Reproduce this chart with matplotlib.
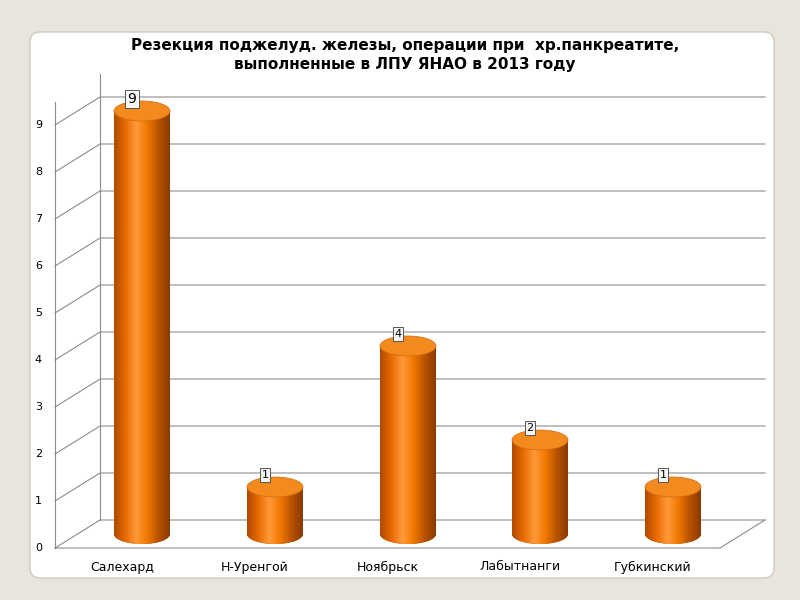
"""Cylinder bar chart: pancreatic resections in YaNAO hospitals, 2013."""

import matplotlib.pyplot as plt
import numpy as np
from matplotlib.patches import FancyBboxPatch, Rectangle, Ellipse, Polygon
from matplotlib.colors import LinearSegmentedColormap

categories = ["Салехард", "Н-Уренгой", "Ноябрьск", "Лабытнанги", "Губкинский"]
values = [9, 1, 4, 2, 1]
y_ticks = list(range(0, 10))
title = "Резекция поджелуд. железы, операции при  хр.панкреатите,\nвыполненные в ЛПУ ЯНАО в 2013 году"

# geometry in pixels
FRONT0, UNIT = 548, 47.0
DX, DY = 45, -28
LEFT, RIGHT = 55, 765
centers = [142, 275, 408, 540, 673]
BAR_W, ELL_H = 56, 20


def yf(v):
    return FRONT0 - UNIT * v


def main():
    fig = plt.figure(figsize=(8, 6), dpi=100)
    fig.patch.set_facecolor("#e9e5dd")
    ax = fig.add_axes([0, 0, 1, 1])
    ax.set_xlim(0, 800)
    ax.set_ylim(600, 0)
    ax.axis("off")

    ax.add_patch(FancyBboxPatch((30, 32), 744, 546, boxstyle="round,pad=0,rounding_size=10",
                                facecolor="white", edgecolor="#cfcac0", lw=1))

    # gridlines and walls
    for v in y_ticks:
        y = yf(v)
        ax.plot([LEFT, LEFT + DX, RIGHT], [y, y + DY, y + DY], color="#8c8c8c", lw=0.8)
        ax.text(42, y, str(v), ha="right", va="center", fontsize=8)
    ax.plot([LEFT + DX, LEFT + DX], [yf(0) + DY, yf(9.5) + DY], color="#8c8c8c", lw=0.8)
    ax.plot([LEFT, LEFT], [yf(0), yf(9.5)], color="#8c8c8c", lw=0.8)
    ax.plot([LEFT, RIGHT - DX, RIGHT], [yf(0), yf(0), yf(0) + DY], color="#8c8c8c", lw=0.8)

    cmap = LinearSegmentedColormap.from_list(
        "cyl", ["#b04a00", "#e86a00", "#ff9a3a", "#f07800", "#b85200", "#8a3a00"])
    grad = np.linspace(0, 1, 200).reshape(1, -1)
    for cx, v, name in zip(centers, values, categories):
        base = yf(0) + DY / 2
        top = yf(v) + DY / 2
        x0 = cx - BAR_W / 2
        body = Rectangle((x0, top), BAR_W, base - top, transform=ax.transData)
        bottom = Ellipse((cx, base), BAR_W, ELL_H, facecolor="#a84800", edgecolor="none")
        ax.add_patch(bottom)
        im = ax.imshow(grad, cmap=cmap, extent=(x0, x0 + BAR_W, base, top), aspect="auto", zorder=2)
        im.set_clip_path(body)
        bot_clip = Ellipse((cx, base), BAR_W, ELL_H, transform=ax.transData)
        im2 = ax.imshow(grad, cmap=cmap, extent=(x0, x0 + BAR_W, base + ELL_H / 2, base), aspect="auto", zorder=2)
        im2.set_clip_path(bot_clip)
        ax.add_patch(Ellipse((cx, top), BAR_W, ELL_H, facecolor="#f28a1e", edgecolor="#d06a10", lw=0.5, zorder=3))
        ax.text(cx - 10, top - 12, str(v), ha="center", va="center", fontsize=8 if v < 9 else 10,
                zorder=4, bbox=dict(boxstyle="square,pad=0.15", facecolor="#f5f5f5", edgecolor="#555555", lw=0.7))
        ax.text(cx - 20, 567, name, ha="center", va="center", fontsize=9)

    ax.text(405, 55, title, ha="center", va="center", fontsize=11, fontweight="bold", linespacing=1.4)
    fig.savefig("out.png", dpi=100, facecolor=fig.get_facecolor())


if __name__ == "__main__":
    main()
